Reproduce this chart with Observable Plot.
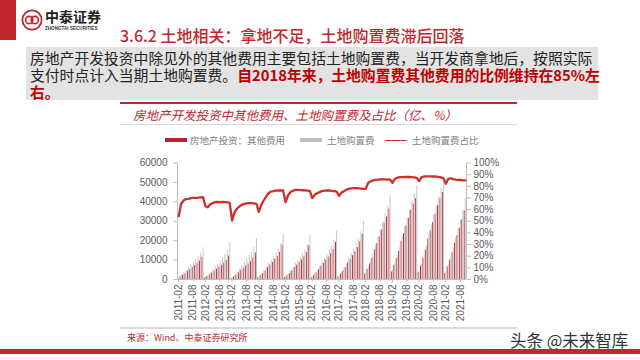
<!DOCTYPE html>
<html><head><meta charset="utf-8">
<script src="https://cdn.jsdelivr.net/npm/d3@7"></script>
<script src="https://cdn.jsdelivr.net/npm/@observablehq/plot@0.6"></script>
<style>
html,body{margin:0;padding:0;background:#fff;}
body{width:640px;height:360px;position:relative;overflow:hidden;font-family:"Noto Sans CJK SC","Noto Sans",sans-serif;}
.abs{position:absolute;white-space:nowrap;}
.red{color:#c00000;font-weight:700;}
</style></head>
<body>
<div class="abs" style="left:0;top:0;width:16px;height:40px;background:#c0282e;"></div>
<svg class="abs" style="left:21px;top:9px" width="22" height="22" viewBox="0 0 24 24">
  <circle cx="12" cy="12" r="10.5" fill="none" stroke="#c0282e" stroke-width="2"/>
  <circle cx="9" cy="12" r="4" fill="none" stroke="#c0282e" stroke-width="1.8"/>
  <circle cx="15" cy="12" r="4" fill="none" stroke="#c0282e" stroke-width="1.8"/>
</svg>
<div class="abs" style="left:45px;top:7px;font-size:14px;font-weight:700;color:#222;line-height:18px;">中泰证券</div>
<div class="abs" style="left:45px;top:26px;font-size:4.6px;font-weight:700;color:#333;font-family:'Liberation Sans',sans-serif;line-height:6px;">ZHONGTAI SECURITIES</div>
<div class="abs" style="left:120px;top:25px;font-size:16px;font-weight:500;color:#c0282e;line-height:20px;">3.6.2 土地相关：拿地不足，土地购置费滞后回落</div>
<div class="abs" style="left:26px;top:47px;width:572px;height:53px;background:#e3e3e3;"></div>
<div class="abs" style="left:30px;top:49px;font-size:14.8px;line-height:17px;color:#222;">房地产开发投资中除见外的其他费用主要包括土地购置费，当开发商拿地后，按照实际</div>
<div class="abs" style="left:30px;top:66px;font-size:14.8px;line-height:17px;color:#222;">支付时点计入当期土地购置费。<span class="red">自2018年来，土地购置费其他费用的比例维持在85%左</span></div>
<div class="abs" style="left:30px;top:83px;font-size:14.8px;line-height:17px;color:#222;"><span class="red">右。</span></div>
<div class="abs" style="left:120px;top:102px;width:397px;height:2px;background:#c0282e;"></div>
<div class="abs" style="left:133px;top:106px;font-size:12.5px;font-style:italic;color:#c0282e;line-height:18px;">房地产开发投资中其他费用、土地购置费及占比（亿、%）</div>
<div class="abs" style="left:120px;top:124px;width:397px;height:1px;background:#d9d9d9;"></div>
<div id="legend"></div>
<div id="chart" class="abs" style="left:110px;top:150px;"></div>
<div class="abs" style="left:120px;top:327px;width:397px;height:2px;background:#d9d9d9;"></div>
<div class="abs" style="left:127px;top:331px;font-size:9px;color:#c0282e;line-height:13px;">来源：Wind、中泰证券研究所</div>
<div class="abs" style="left:510px;top:330px;font-size:16.5px;color:#333;line-height:20px;">头条 @未来智库</div>
<div class="abs" style="left:0;top:349px;width:640px;height:5px;background:#c0282e;"></div>
<script>
// Categories
const years = ["2011","2012","2013","2014","2015","2016","2017","2018","2019","2020","2021"];
const monthCodes = ["02","03","04","05","06","07","08","09","10","11","12"];
const lastYearMonths = ["02","03","04","05","06","07","08","09","10"];
const xTickLabels = ["2011-02","2011-08","2012-02","2012-08","2013-02","2013-08","2014-02","2014-08","2015-02","2015-08","2016-02","2016-08","2017-02","2017-08","2018-02","2018-08","2019-02","2019-08","2020-02","2020-08","2021-02","2021-08"];
const seriesNames = ["房地产投资：其他费用","土地购置费","土地购置费占比"];
const leftTicks = [0,10000,20000,30000,40000,50000,60000];
const rightTicks = [0,10,20,30,40,50,60,70,80,90,100];

// Red bars (亿)
const redBars = [
 600,1400,2200,3100,4300,5200,6200,7200,8200,9500,11400,
 700,1500,2300,3200,4400,5300,6300,7300,8400,9800,12100,
 500,1300,2300,3400,4800,5800,6900,8000,9200,10900,13700,
 900,1900,3000,4400,6100,7400,8800,10300,11800,14000,17800,
 900,2000,3100,4500,6200,7400,8800,10200,11700,13800,17400,
 900,2100,3400,5000,6900,8300,9900,11600,13300,15600,19100,
 1200,2700,4300,6100,8500,10300,12300,14300,16400,19300,23400,
 2700,5200,8000,11000,15200,18500,22000,25500,28900,32200,36200,
 3900,7200,10800,14500,19700,23600,27600,31500,35600,38800,41700,
 3600,7000,10900,15200,20800,25000,29300,33700,38000,41700,44800,
 3200,6500,10000,13800,18800,22500,26400,30800,35400
];
// Gray bars (亿)
const grayBars = [
 1100,2000,3300,4500,6200,7500,8900,10300,11800,13600,16300,
 1100,2300,3600,5000,6800,8100,9700,11200,12900,15000,19100,
 1000,2200,3700,5300,7400,8900,10600,12300,14200,16700,20900,
 1500,2900,4400,6200,8400,10000,11800,13700,15700,18500,23400,
 1300,2800,4300,6100,8300,9800,11600,13400,15300,18000,23100,
 1300,2900,4600,6700,9100,10900,12900,15100,17300,20200,25100,
 1700,3600,5700,8000,11000,13300,15800,18300,20900,24600,29900,
 3400,6300,9500,13000,17800,21600,25600,29700,33700,37600,43100,
 4700,8300,12400,16600,22500,26900,31400,35800,40400,44200,48200,
 4300,8000,12400,17200,23500,28200,33000,37900,42800,46800,49900,
 3900,7600,11600,16000,21700,25800,30300,35400,41400
];
// Share line (%)
const sharePct = [
 54.3,65.0,67.8,69.0,69.3,69.8,70.0,70.0,70.2,70.5,70.7,
 62.9,62.0,64.5,65.5,66.4,66.6,66.5,66.6,66.4,66.2,65.8,
 50.6,57.8,60.7,62.7,64.1,65.0,65.3,65.5,65.6,65.4,65.0,
 58.1,64.1,67.8,71.2,74.1,75.5,75.8,76.2,76.4,76.5,76.4,
 66.4,72.1,75.0,76.1,77.0,77.0,76.8,76.6,76.6,76.2,75.8,
 69.8,72.7,74.1,75.0,75.8,76.2,76.4,76.4,76.0,75.8,75.5,
 71.8,74.4,75.8,77.0,77.8,78.2,78.4,78.4,78.2,78.0,77.8,
 77.8,83.0,84.1,85.0,85.5,85.8,86.0,86.0,86.0,85.8,85.8,
 83.0,86.4,87.3,87.8,87.9,88.0,88.0,88.0,87.9,87.6,87.3,
 84.4,87.8,88.4,88.5,88.6,88.5,88.4,88.3,88.0,87.6,86.8,
 82.1,86.4,86.9,86.2,85.8,85.5,85.4,85.2,85.1
];

const months = [];
years.forEach(y => (y === "2021" ? lastYearMonths : monthCodes).forEach(m => months.push(y + "-" + m)));
const data = months.map((m, i) => ({m, red: redBars[i], gray: grayBars[i], share: sharePct[i]}));

const W = 400, H = 180, mL = 67, mR = 44, mT = 12.5, mB = 51;
const bw = (W - mL - mR) / months.length;
const yMax = 60000, pctScale = yMax / 100;
const axisGray = "#bfbfbf", textGray = "#595959";

const chart = Plot.plot({
  width: W, height: H,
  marginLeft: mL, marginRight: mR, marginTop: mT, marginBottom: mB,
  x: {type: "band", domain: months, padding: 0, axis: null, label: null},
  y: {domain: [0, yMax], axis: null, label: null},
  style: {fontFamily: "'Liberation Sans', Arial, sans-serif", fontSize: "10px", background: "transparent", overflow: "visible"},
  marks: [
    Plot.barY(data, {x: "m", y: "red", fill: "#b93a44", insetLeft: 0.15, insetRight: bw / 2 + 0.05}),
    Plot.barY(data, {x: "m", y: "gray", fill: "#c9c9c9", insetLeft: bw / 2 + 0.05, insetRight: 0.15}),
    Plot.ruleY([0], {stroke: axisGray}),
    Plot.ruleX([months[0]], {x: d => d, dx: -bw / 2, stroke: axisGray}),
    Plot.ruleX([months[months.length - 1]], {x: d => d, dx: bw / 2, stroke: axisGray}),
    Plot.line(data, {x: "m", y: d => d.share * pctScale, stroke: "#cf2f2c", strokeWidth: 2.3}),
    Plot.axisY({anchor: "left", ticks: leftTicks, tickSize: 4, tickPadding: 6, tickFormat: d => String(d), stroke: axisGray, fill: textGray, label: null}),
    Plot.axisY({anchor: "right", ticks: rightTicks.map(p => p * pctScale), tickSize: 4, tickPadding: 3, tickFormat: d => Math.round(d / pctScale) + "%", stroke: axisGray, fill: textGray, label: null}),
    Plot.axisX({ticks: xTickLabels, tickRotate: -90, tickSize: 3, tickPadding: 2, stroke: axisGray, fill: textGray, label: null})
  ]
});
document.getElementById("chart").appendChild(chart);

// Legend
const legend = document.getElementById("legend");
const legendItems = [
  {name: seriesNames[0], kind: "rect", color: "#b8232f", sx: 165, tx: 190},
  {name: seriesNames[1], kind: "rect", color: "#bfbfbf", sx: 300, tx: 327},
  {name: seriesNames[2], kind: "line", color: "#cf2f2c", sx: 385, tx: 412}
];
legendItems.forEach(it => {
  const s = document.createElement("div");
  s.className = "abs";
  s.style.left = it.sx + "px";
  s.style.width = "22px";
  s.style.top = (it.kind === "rect" ? 138 : 139.5) + "px";
  s.style.height = (it.kind === "rect" ? 4 : 1.6) + "px";
  s.style.background = it.color;
  legend.appendChild(s);
  const t = document.createElement("div");
  t.className = "abs";
  t.style.left = it.tx + "px";
  t.style.top = "133px";
  t.style.fontSize = "9.5px";
  t.style.lineHeight = "14px";
  t.style.color = "#7f7f7f";
  t.textContent = it.name;
  legend.appendChild(t);
});
</script>
</body></html>
